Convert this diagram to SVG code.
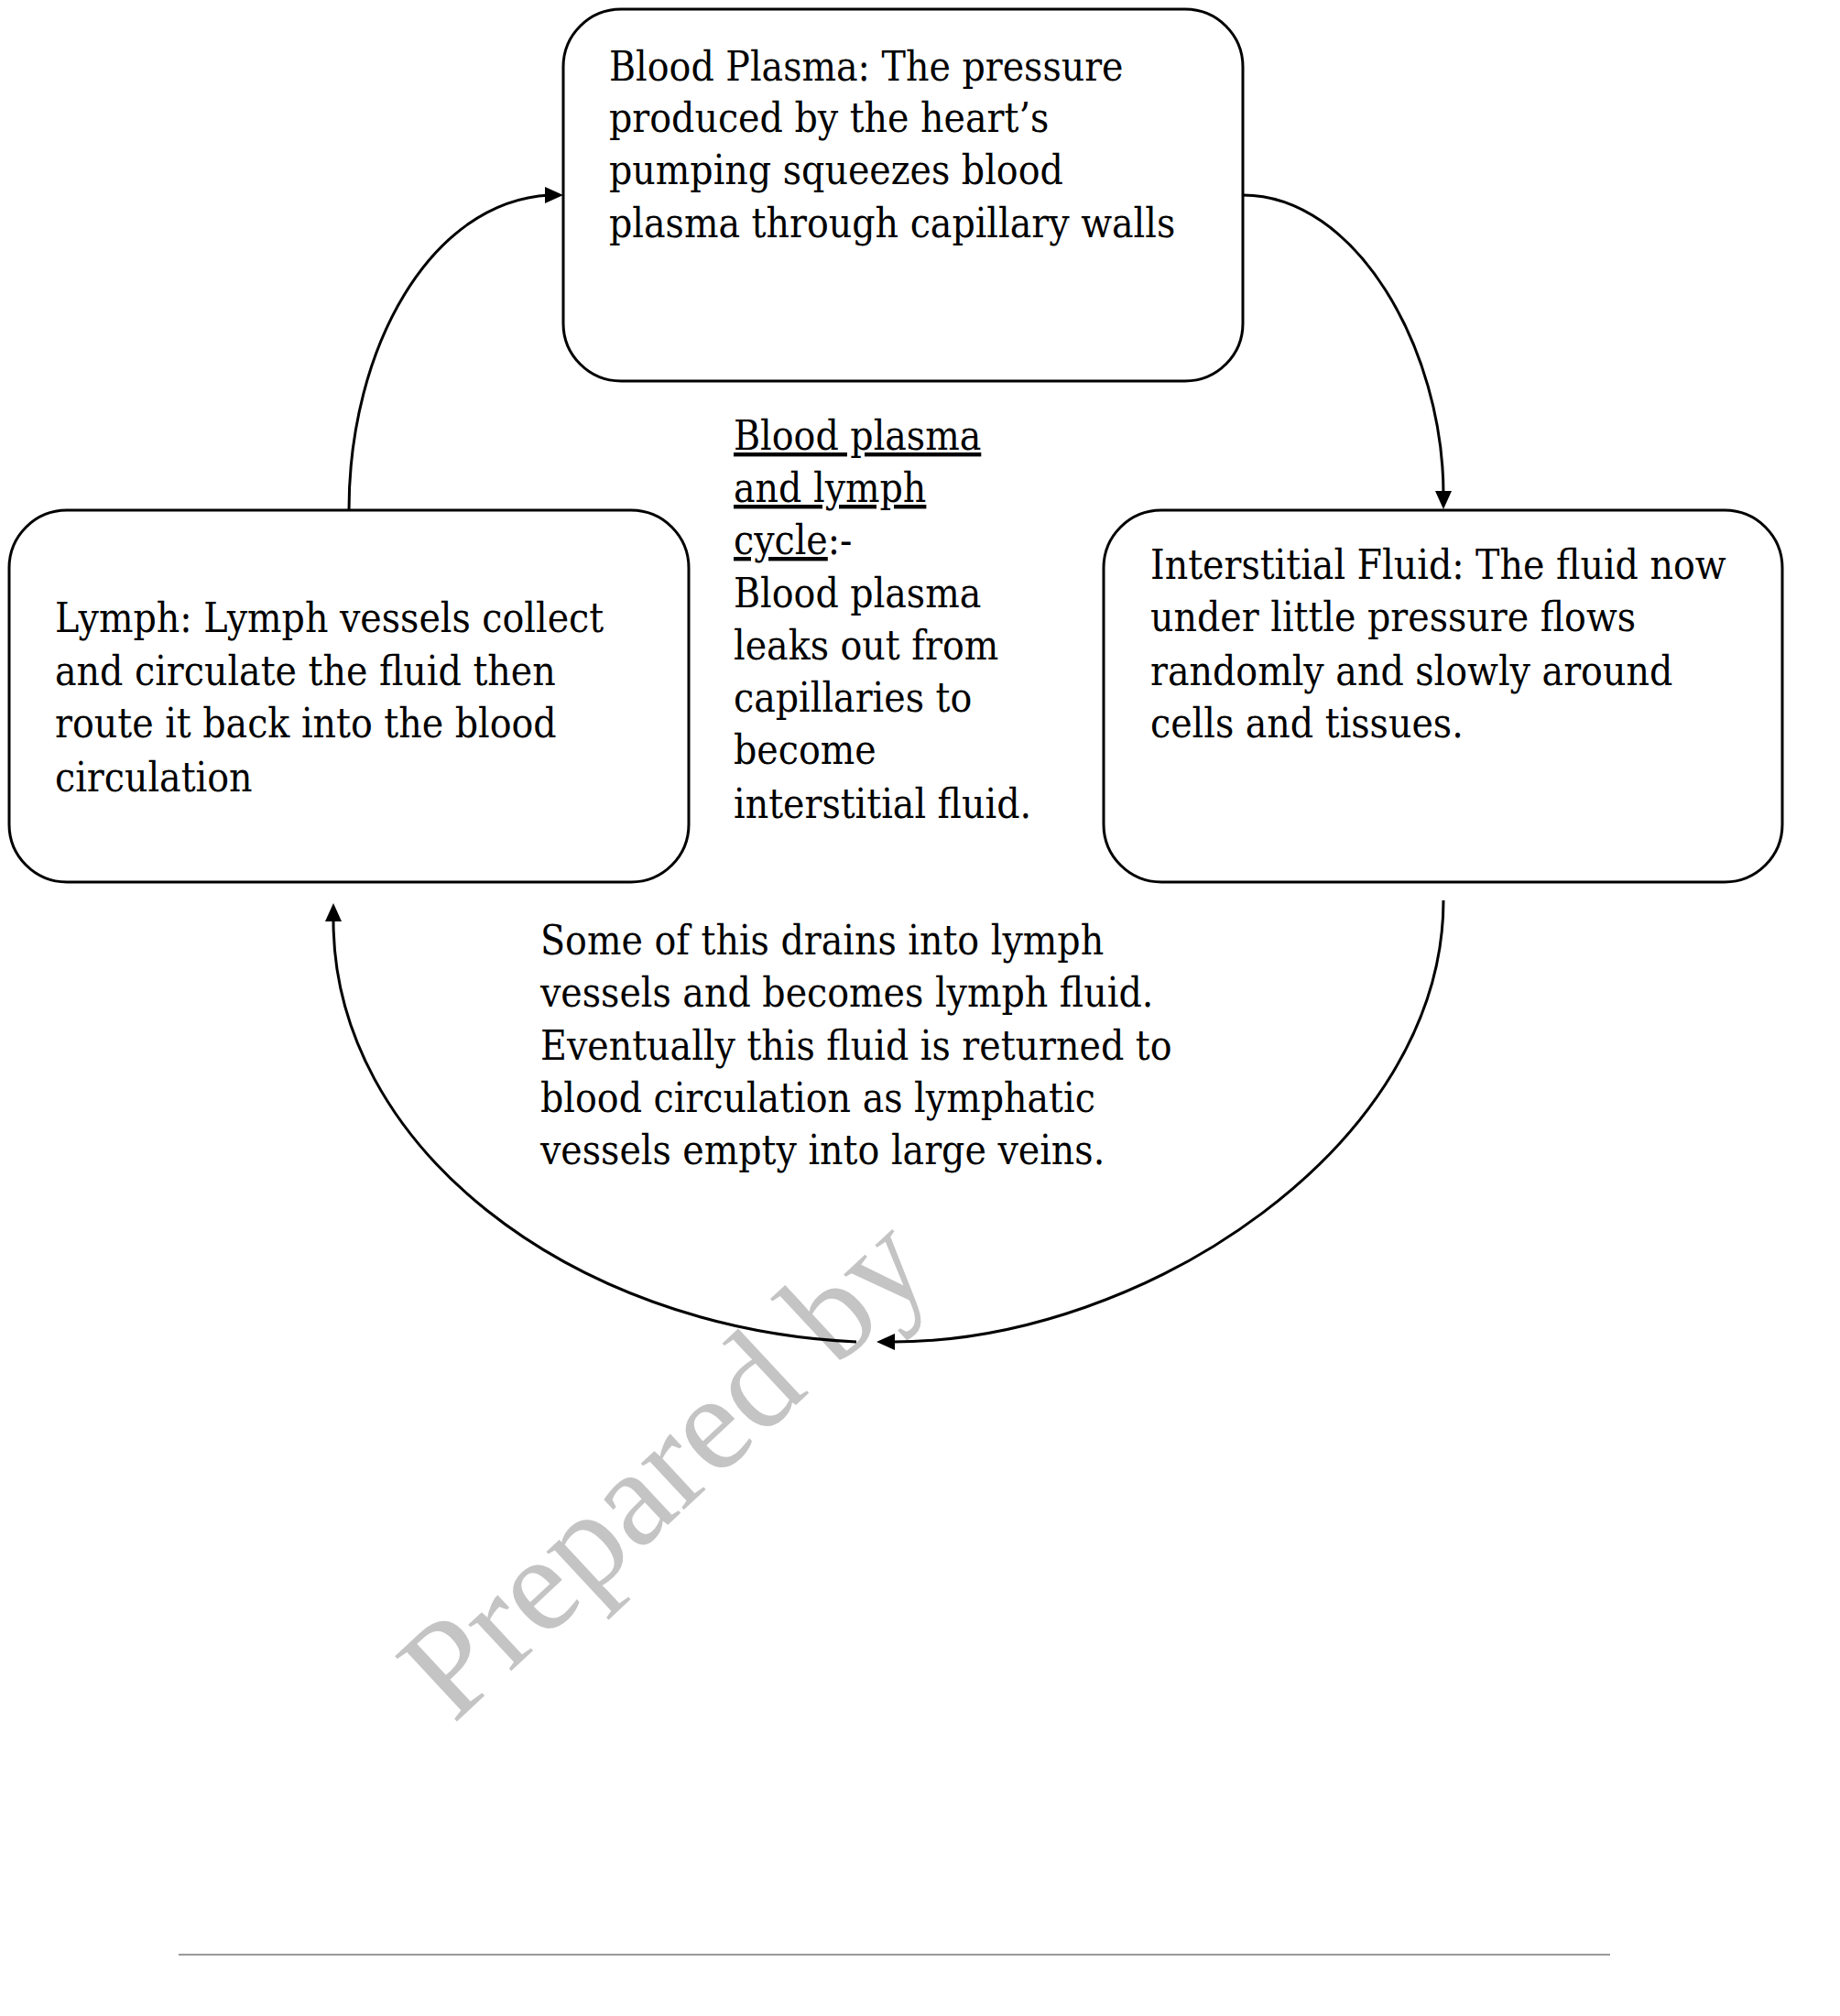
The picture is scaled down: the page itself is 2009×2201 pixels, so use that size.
<svg xmlns="http://www.w3.org/2000/svg" width="2009" height="2201" viewBox="0 0 2009 2201">
<style>
.box{fill:#fff;stroke:#000;stroke-width:3}
.t{font-family:"DejaVu Serif Condensed","DejaVu Serif",serif;font-stretch:condensed;font-size:44px;fill:#000}
.c{fill:none;stroke:#000;stroke-width:3}
</style>
<defs>
<marker id="ah" viewBox="0 0 10 10" refX="9" refY="5" markerWidth="8" markerHeight="8" markerUnits="userSpaceOnUse" orient="auto"><path d="M0,0L10,5L0,10z" fill="#000"/></marker>
</defs>
<rect width="2009" height="2201" fill="#fff"/>
<text transform="translate(495,1883) rotate(-43)" font-family="Liberation Serif,serif" font-size="150" fill="#c4c4c4" textLength="720" lengthAdjust="spacingAndGlyphs">Prepared by</text>
<g id="connectors">
<path class="c" d="M381,557 C381,380 470,220 600,213" marker-end="url(#ah)" style="marker-end:none"/>
<path d="M615,213 L595,204 L595,222 z"/>
<path class="c" d="M1357,213 C1480,213 1576,380 1576,540"/>
<path d="M1576,556 L1567,536 L1585,536 z"/>
<path class="c" d="M1576,983 C1576,1250 1250,1465 975,1465"/>
<path d="M957,1465 L977,1456 L977,1474 z"/>
<path class="c" d="M935,1465 C620,1450 364,1250 364,1005"/>
<path d="M364,986 L355,1006 L373,1006 z"/>
</g>
<g id="blood-plasma">
<rect class="box" x="615" y="10" width="742" height="406" rx="63"/>
<text class="t"><tspan x="665" y="88">Blood Plasma: The pressure</tspan><tspan x="665" y="144">produced by the heart’s</tspan><tspan x="665" y="201">pumping squeezes blood</tspan><tspan x="665" y="259">plasma through capillary walls</tspan></text>
</g>
<g id="lymph">
<rect class="box" x="10" y="557" width="742" height="406" rx="63"/>
<text class="t"><tspan x="60" y="690">Lymph: Lymph vessels collect</tspan><tspan x="60" y="748">and circulate the fluid then</tspan><tspan x="60" y="805">route it back into the blood</tspan><tspan x="60" y="864">circulation</tspan></text>
</g>
<g id="interstitial">
<rect class="box" x="1205" y="557" width="741" height="406" rx="63"/>
<text class="t"><tspan x="1256" y="632">Interstitial Fluid: The fluid now</tspan><tspan x="1256" y="689">under little pressure flows</tspan><tspan x="1256" y="748">randomly and slowly around</tspan><tspan x="1256" y="805">cells and tissues.</tspan></text>
</g>
<g id="center-label">
<text class="t"><tspan x="801" y="491" text-decoration="underline">Blood plasma</tspan><tspan x="801" y="548" text-decoration="underline">and lymph</tspan><tspan x="801" y="605"><tspan text-decoration="underline">cycle</tspan>:-</tspan><tspan x="801" y="663">Blood plasma</tspan><tspan x="801" y="720">leaks out from</tspan><tspan x="801" y="777">capillaries to</tspan><tspan x="801" y="834">become</tspan><tspan x="801" y="893">interstitial fluid.</tspan></text>
</g>
<g id="drain-label">
<text class="t"><tspan x="590" y="1042">Some of this drains into lymph</tspan><tspan x="590" y="1099">vessels and becomes lymph fluid.</tspan><tspan x="590" y="1157">Eventually this fluid is returned to</tspan><tspan x="590" y="1214">blood circulation as lymphatic</tspan><tspan x="590" y="1271">vessels empty into large veins.</tspan></text>
</g>
<line x1="195" y1="2134" x2="1758" y2="2134" stroke="#999" stroke-width="2"/>
</svg>
